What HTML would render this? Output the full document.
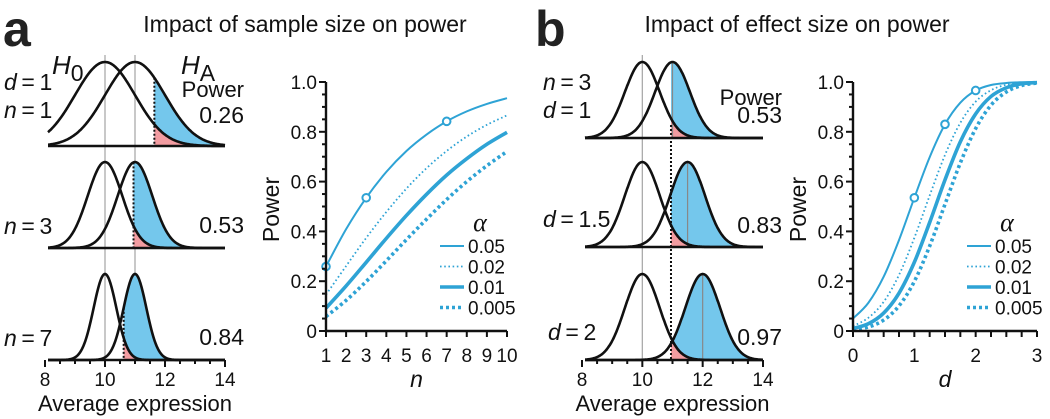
<!DOCTYPE html>
<html><head><meta charset="utf-8">
<style>
body{margin:0;background:#fff;}
svg{display:block;font-family:"Liberation Sans",sans-serif;}
</style></head>
<body>
<svg id="fig" width="1050" height="419" viewBox="0 0 1050 419" xmlns="http://www.w3.org/2000/svg">
<g>
<text x="3" y="46" font-size="50" font-weight="bold" fill="#222">a</text>
<text x="305" y="32" font-size="23" text-anchor="middle" fill="#111">Impact of sample size on power</text>
<g id="distA"></g>
<g id="chartA"></g>
</g>
<g>
<text x="535" y="46" font-size="50" font-weight="bold" fill="#222">b</text>
<text x="797" y="32" font-size="23" text-anchor="middle" fill="#111">Impact of effect size on power</text>
<g id="distB"></g>
<g id="chartB"></g>
</g>
</svg>
<script>
// ---- data ----
const alphas = ["0.05","0.02","0.01","0.005"];
const nValues = [1,2,3,4,5,6,7,8,9,10];
const powerN_05 = [0.259,0.409,0.535,0.639,0.723,0.789,0.842,0.882,0.912,0.935];
const powerN_02 = [0.146,0.261,0.374,0.478,0.572,0.654,0.723,0.781,0.828,0.866];
const powerN_01 = [0.092,0.181,0.276,0.372,0.464,0.549,0.626,0.692,0.750,0.798];
const powerN_005 = [0.058,0.123,0.199,0.282,0.367,0.449,0.528,0.600,0.664,0.721];
const markedN = [1,3,7];
const dValues = [0,0.25,0.5,0.75,1,1.25,1.5,1.75,2,2.25,2.5,2.75,3];
const powerD_05 = [0.050,0.113,0.218,0.365,0.535,0.698,0.830,0.917,0.966,0.988,0.996,0.999,1.0];
const powerD_02 = [0.020,0.053,0.117,0.225,0.374,0.544,0.707,0.836,0.921,0.967,0.989,0.997,0.999];
const powerD_01 = [0.010,0.029,0.072,0.152,0.276,0.436,0.607,0.760,0.872,0.942,0.977,0.993,0.998];
const powerD_005 = [0.005,0.016,0.044,0.101,0.199,0.341,0.509,0.675,0.813,0.907,0.960,0.986,0.996];
const markedD = [1,1.5,2];
const nTicks = [1,2,3,4,5,6,7,8,9,10];
const dTicks = [0,1,2,3];
const powerTicks = [0,0.2,0.4,0.6,0.8,1.0];
const powerTickLabels = ["0","0.2","0.4","0.6","0.8","1.0"];
const exprTicks = [8,10,12,14];
const rowsA_mean = [11,11,11];
const rowsA_sigma = [1,0.577,0.378];
const rowsA_crit = [11.645,10.95,10.622];
const rowsA_power = ["0.26","0.53","0.84"];
const rowsB_mean = [11,11.5,12];
const rowsB_sigma = [0.577,0.577,0.577];
const rowsB_crit = [10.95,10.95,10.95];
const rowsB_power = ["0.53","0.83","0.97"];

const NS="http://www.w3.org/2000/svg";
const BLUE="#2ea3d5", FILLB="#74c7ec", FILLP="#f29ca1";
function mk(parent,tag,attrs,text){const e=document.createElementNS(NS,tag);for(const k in attrs)e.setAttribute(k,attrs[k]);if(text!==undefined)e.textContent=text;parent.appendChild(e);return e;}

function smooth(pts){let d="M"+pts[0][0]+","+pts[0][1];for(let i=0;i<pts.length-1;i++){const p0=pts[Math.max(0,i-1)],p1=pts[i],p2=pts[i+1],p3=pts[Math.min(pts.length-1,i+2)];const c1x=p1[0]+(p2[0]-p0[0])/6,c1y=p1[1]+(p2[1]-p0[1])/6,c2x=p2[0]-(p3[0]-p1[0])/6,c2y=p2[1]-(p3[1]-p1[1])/6;d+=`C${c1x},${c1y} ${c2x},${c2y} ${p2[0]},${p2[1]}`;}return d;}

function distPanel(g,x0,x1,baseY,peakH,means,sigmas,crits,powers,labels,isB){
  const sx=v=>x0+(v-8)*(x1-x0)/6;
  const xs=[];for(let v=8.1;v<=14.0001;v+=0.02)xs.push(v);
  const l0=mk(g,'line',{x1:sx(10),x2:sx(10),y1:55,y2:baseY[2],stroke:'#aaa','stroke-width':1.3});
  
  if(!isB){const l1=mk(g,'line',{x1:sx(11),x2:sx(11),y1:55,y2:baseY[2],stroke:'#aaa','stroke-width':1.3});
    }
  for(let r=0;r<3;r++){
    const rg=mk(g,'g',{});
    
    
    const by=baseY[r],h=peakH[r],m=means[r],s=sigmas[r],c=crits[r];
    const fy=(v,mu)=>by-h*Math.exp(-0.5*((v-mu)/s)**2);
    let d="M"+sx(c)+","+by;for(let v=c;v<=14;v+=0.02)d+="L"+sx(v)+","+fy(v,m);d+="L"+sx(14)+","+by+"Z";
    const ba=mk(rg,'path',{d:d,fill:FILLB});
    d="M"+sx(c)+","+by;for(let v=c;v<=14;v+=0.02)d+="L"+sx(v)+","+fy(v,10);d+="L"+sx(14)+","+by+"Z";
    const pa=mk(rg,'path',{d:d,fill:FILLP});
    if(isB){const ml=mk(rg,'line',{x1:sx(m),x2:sx(m),y1:by-h,y2:by,stroke:'#888','stroke-width':1.2});
      }
    if(!isB){const dl=mk(rg,'line',{x1:sx(c),x2:sx(c),y1:fy(c,m),y2:by,stroke:'#111','stroke-width':2,'stroke-dasharray':'2,2'});
      }
    for(const mu of [10,m]){let p="";xs.forEach((v,i)=>p+=(i?"L":"M")+sx(v).toFixed(1)+","+fy(v,mu).toFixed(1));
      const cv=mk(rg,'path',{d:p,fill:'none',stroke:'#111','stroke-width':2.6});
      }
    const bl=mk(rg,'line',{x1:sx(8)+3,x2:sx(14),y1:by,y2:by,stroke:'#111','stroke-width':2.4});
    
    const pv=mk(rg,'text',{x:x1+19,y:[123,233,345][r],'font-size':23,'text-anchor':'end',fill:'#111'},powers[r]);
    
  }
  if(isB){const dl=mk(g,'line',{x1:sx(crits[0]),x2:sx(crits[0]),y1:125,y2:baseY[2],stroke:'#111','stroke-width':2,'stroke-dasharray':'2,2'});
    }
  for(let v=8;v<=14.001;v+=0.5){const t=mk(g,'line',{x1:sx(v),x2:sx(v),y1:baseY[2],y2:baseY[2]+(v%2===0?7:4),stroke:'#111','stroke-width':2});
    }
  exprTicks.forEach(v=>{const t=mk(g,'text',{x:sx(v),y:386,'font-size':19,'text-anchor':'middle',fill:'#111'},String(v));
    });
  const xt=mk(g,'text',{x:(x0+x1)/2,y:411,'font-size':22,'text-anchor':'middle',fill:'#111'},'Average expression');
  
  labels.forEach(L=>{const t=mk(g,'text',{x:L[0],y:L[1],'font-size':23,fill:'#111'});
    
    mk(t,'tspan',{'font-style':'italic'},L[2]);mk(t,'tspan',{},'\u2009=\u2009'+L[3]);});
  const pw=mk(g,'text',{x:x1+19,y:isB?105:97,'font-size':22,'text-anchor':'end',fill:'#111'},'Power');
  
}
const gA=document.getElementById('distA');
distPanel(gA,45,225,[146,248,360],[84,86,86],rowsA_mean,rowsA_sigma,rowsA_crit,rowsA_power,
  [[4,90,'d','1'],[4,118,'n','1'],[4,234,'n','3'],[4,346,'n','7']],false);
let t=mk(gA,'text',{x:52,y:74,'font-size':26,fill:'#111'});
mk(t,'tspan',{'font-style':'italic'},'H');mk(t,'tspan',{dy:7,'font-size':23},'0');
t=mk(gA,'text',{x:181,y:74,'font-size':26,fill:'#111'});
mk(t,'tspan',{'font-style':'italic'},'H');mk(t,'tspan',{dy:7,'font-size':23},'A');
const gB=document.getElementById('distB');
distPanel(gB,582,763,[138,247,360],[76,85,86],rowsB_mean,rowsB_sigma,rowsB_crit,rowsB_power,
  [[543,90,'n','3'],[543,118,'d','1'],[543,227,'d','1.5'],[548,340,'d','2']],true);

function powerChart(g,x0,x1,xmin,xmax,xs,series,marked,ticks,minorStep,xTitle,lx){
  const y0=331,y1=82;
  const sx=v=>x0+(v-xmin)*(x1-x0)/(xmax-xmin), sy=v=>y0-v*(y0-y1);
  const styles=[{w:2,da:''},{w:1.8,da:'1.6,2.6'},{w:3.6,da:''},{w:3.6,da:'3,3'}];
  series.forEach((s,k)=>{const p=mk(g,'path',{d:smooth(xs.map((x,i)=>[sx(x),sy(s[i])])),fill:'none',stroke:BLUE,'stroke-width':styles[k].w,'stroke-dasharray':styles[k].da});
    });
  marked.forEach(m=>{const i=xs.indexOf(m);const c=mk(g,'circle',{cx:sx(m),cy:sy(series[0][i]),r:3.8,fill:'#fff',stroke:BLUE,'stroke-width':2});
    });
  const ax=mk(g,'path',{d:`M${x0},${y1}V${y0}H${x1}`,fill:'none',stroke:'#111','stroke-width':2.4});
  
  for(let v=0;v<=1.0001;v+=0.05){const major=Math.abs(v*5-Math.round(v*5))<1e-6;
    const tk=mk(g,'line',{x1:x0-(major?7:4),x2:x0,y1:sy(v),y2:sy(v),stroke:'#111','stroke-width':2});
    }
  powerTicks.forEach((v,i)=>{const tl=mk(g,'text',{x:x0-9,y:sy(v)+7,'font-size':19,'text-anchor':'end',fill:'#111'},powerTickLabels[i]);
    });
  for(let v=xmin;v<=xmax+1e-6;v+=minorStep){const tk=mk(g,'line',{x1:sx(v),x2:sx(v),y1:y0,y2:y0+6,stroke:'#111','stroke-width':2});
    }
  ticks.forEach(v=>{const tl=mk(g,'text',{x:sx(v),y:362,'font-size':19,'text-anchor':'middle',fill:'#111'},String(v));
    });
  const xt=mk(g,'text',{x:(x0+x1)/2,y:387,'font-size':23,'font-style':'italic','text-anchor':'middle',fill:'#111'},xTitle);
  
  const yt=mk(g,'text',{x:0,y:0,'font-size':23,'text-anchor':'middle',fill:'#111',transform:`translate(${x0-47},${(y0+y1)/2+3}) rotate(-90)`},'Power');
  
  const lg=mk(g,'g',{});
  const at=mk(lg,'text',{x:lx+40,y:231,'font-size':26,'font-family':'Liberation Serif,serif','font-style':'italic','text-anchor':'middle',fill:'#111'},'α');
  
  alphas.forEach((a,k)=>{const yy=246+k*20.5;
    const ln=mk(lg,'line',{x1:lx,x2:lx+24,y1:yy,y2:yy,stroke:BLUE,'stroke-width':styles[k].w,'stroke-dasharray':styles[k].da});
    
    const tx=mk(lg,'text',{x:lx+28,y:yy+7,'font-size':19,fill:'#111'},a);
    });
}
powerChart(document.getElementById('chartA'),326,507,1,10,nValues,[powerN_05,powerN_02,powerN_01,powerN_005],markedN,nTicks,1,'n',440);
powerChart(document.getElementById('chartB'),853,1037,0,3,dValues,[powerD_05,powerD_02,powerD_01,powerD_005],markedD,dTicks,0.25,'d',967);
</script>
</body></html>
